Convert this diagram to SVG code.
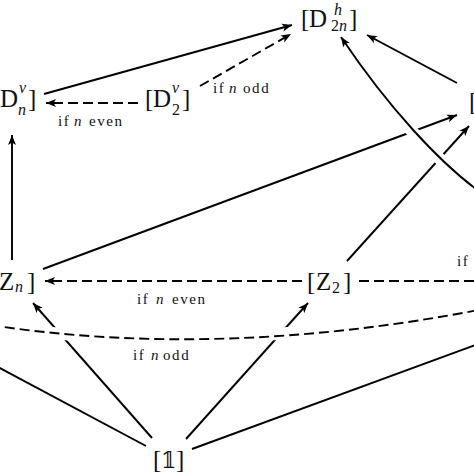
<svg xmlns="http://www.w3.org/2000/svg" width="474" height="474" viewBox="0 0 474 474">
<style>
text{font-family:'Liberation Serif','DejaVu Serif',serif;fill:#111}
.m{font-size:25px}
.s{font-size:16px}
.i{font-style:italic}
.lbl{font-size:15px;letter-spacing:1.6px}
.e{fill:none;stroke:#000;stroke-width:1.9}
.d{stroke-dasharray:10 5}
.a{marker-end:url(#ah)}
.halo{fill:none;stroke:#fff;stroke-width:12}
</style>
<defs>
<marker id="ah" viewBox="0 0 10 10" markerWidth="10" markerHeight="10" refX="10" refY="5" orient="auto" markerUnits="userSpaceOnUse">
<path d="M0,1 L10,5 L0,9 L2.5,5 Z" fill="#000"/>
</marker>
</defs>
<rect width="474" height="474" fill="#fff"/>
<g id="connectors">
<path class="e a" d="M44,94 L292,25"/>
<path class="e d a" d="M200,86 L291,34"/>
<path class="e d a" d="M138,103 L46,103"/>
<path class="e a" d="M12,260 L12,135"/>
<path class="e a" d="M43,269 L457,115"/>
<path class="e a" d="M347,261 L469,126"/>
<path class="e a" d="M457,83 L367,35"/>
<path class="e d a" d="M302,281 L45,281"/>
<path class="e d" d="M359,281 L478,281"/>
<path class="e a" d="M152,438 L33,303"/>
<path class="e a" d="M186,439 L308,303"/>
<path class="e" d="M192,449 L478,344"/>
<path class="e" d="M146,446 L-4,366"/>
<path class="halo" d="M470,184 C440,162 400,122 380,92"/>
<path class="e a" d="M476,189 C440,162 390,110 341,37"/>
<path class="halo" d="M20,329 Q150,348 320,330"/>
<path class="e d" d="M-10,325 Q220,360 484,309"/>
</g>
<g id="labels">
<text class="lbl" y="126"><tspan x="58">if</tspan><tspan class="i" x="74">n</tspan><tspan x="89">even</tspan></text>
<text class="lbl" y="93"><tspan x="213">if</tspan><tspan class="i" x="229">n</tspan><tspan x="243">odd</tspan></text>
<text class="lbl" y="304"><tspan x="137">if</tspan><tspan class="i" x="156">n</tspan><tspan x="172">even</tspan></text>
<text class="lbl" y="360"><tspan x="133">if</tspan><tspan class="i" x="151">n</tspan><tspan x="163">odd</tspan></text>
<text class="lbl" x="457" y="266">if</text>
</g>
<g id="node-D2nh"><text class="m" y="27"><tspan x="301">[</tspan><tspan x="309">D</tspan><tspan class="s i" x="334" y="15">h</tspan><tspan class="s" x="331" y="31">2</tspan><tspan class="s i">n</tspan><tspan x="349" y="27">]</tspan></text></g>
<g id="node-Dnv"><text class="m" y="107"><tspan x="-10">[</tspan><tspan x="0">D</tspan><tspan class="s i" x="19" y="93">v</tspan><tspan class="s i" x="18" y="115">n</tspan><tspan x="28" y="107">]</tspan></text></g>
<g id="node-D2v"><text class="m" y="107"><tspan x="145">[</tspan><tspan x="153">D</tspan><tspan class="s i" x="172" y="93">v</tspan><tspan class="s" x="172" y="115">2</tspan><tspan x="182" y="107">]</tspan></text></g>
<g id="node-Zn"><text class="m" y="290"><tspan x="-12">[</tspan><tspan x="-1">Z</tspan><tspan class="s i" x="15" y="292">n</tspan><tspan x="27" y="290">]</tspan></text></g>
<g id="node-Z2"><text class="m" y="290"><tspan x="307">[</tspan><tspan x="316">Z</tspan><tspan class="s" x="332" y="293">2</tspan><tspan x="343" y="290">]</tspan></text></g>
<g id="node-1"><text class="m" y="468"><tspan x="153">[</tspan><tspan x="161" style="font-family:'DejaVu Serif','DejaVu Sans',serif;font-size:22px">𝟙</tspan><tspan x="176">]</tspan></text></g>
<g id="node-right"><text class="m" x="469" y="110">[</text></g>
</svg>
